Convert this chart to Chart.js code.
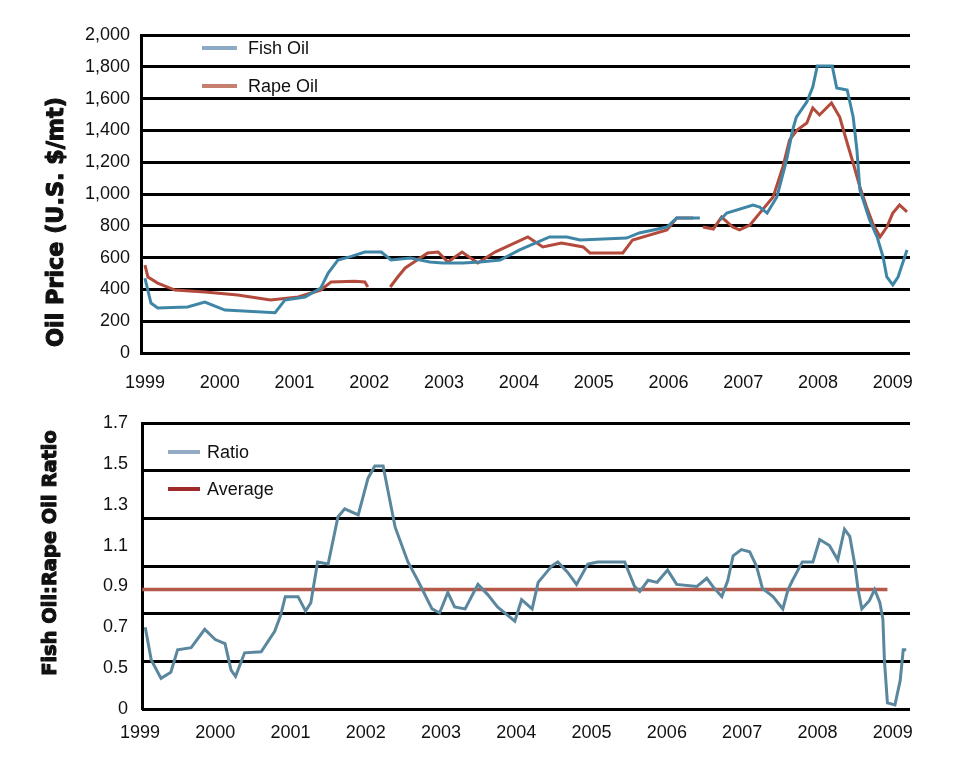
<!DOCTYPE html>
<html><head><meta charset="utf-8">
<script src="https://cdn.jsdelivr.net/npm/chart.js@4"></script>
<style>
html,body{margin:0;padding:0;background:#fff;}
#wrap{position:relative;width:960px;height:774px;overflow:hidden;}
canvas{position:absolute;left:0;}
</style></head><body>
<div id="wrap">
<canvas id="topChart" width="960" height="390" style="top:0;width:960px;height:390px"></canvas>
<canvas id="botChart" width="960" height="384" style="top:390px;width:960px;height:384px"></canvas>
</div>
<script>
// ---- data ----
const yearTicks = [1999,2000,2001,2002,2003,2004,2005,2006,2007,2008,2009];
const priceTicks = [0,200,400,600,800,1000,1200,1400,1600,1800,2000];
const ratioTicks = [0.3,0.5,0.7,0.9,1.1,1.3,1.5,1.7];
const ratioTickLabels = ['0','0.5','0.7','0.9','1.1','1.3','1.5','1.7'];

const fishYears = [1999.00,1999.08,1999.17,1999.57,1999.80,2000.07,2000.74,2000.87,2001.14,2001.35,2001.45,2001.58,2001.75,2001.94,2002.16,2002.29,2002.55,2002.81,2002.98,2003.25,2003.48,2003.75,2004.01,2004.41,2004.64,2004.82,2005.44,2005.61,2005.98,2006.11,2006.42,2006.55,2006.69,2006.78,2007.13,2007.22,2007.32,2007.45,2007.58,2007.66,2007.71,2007.85,2007.93,2007.99,2008.19,2008.25,2008.39,2008.47,2008.52,2008.56,2008.69,2008.79,2008.87,2008.92,2009.00,2009.07,2009.19];
const fishPrices = [470,314,283,290,320,270,253,333,352,408,503,585,606,635,635,585,597,572,566,566,572,585,648,730,730,711,723,755,792,849,849,null,836,880,931,918,880,981,1214,1402,1484,1579,1673,1805,1805,1667,1654,1484,1277,1025,836,730,604,478,428,478,648];

const rapeYears = [1999.00,1999.04,1999.17,1999.40,1999.80,2000.24,2000.68,2001.05,2001.35,2001.49,2001.80,2001.94,2001.98,2002.10,2002.28,2002.38,2002.48,2002.78,2002.92,2003.05,2003.24,2003.45,2003.68,2004.12,2004.32,2004.57,2004.86,2004.95,2005.39,2005.52,2005.98,2006.11,2006.33,2006.40,2006.46,2006.60,2006.71,2006.86,2006.95,2007.09,2007.22,2007.40,2007.53,2007.62,2007.72,2007.85,2007.93,2008.02,2008.18,2008.29,2008.39,2008.47,2008.56,2008.65,2008.73,2008.83,2008.92,2009.00,2009.09,2009.19];
const rapePrices = [553,478,440,396,384,365,333,352,396,447,452,447,415,null,415,478,535,629,635,572,635,566,635,730,667,692,667,629,629,711,774,849,849,null,792,780,855,792,774,805,880,981,1170,1340,1402,1446,1541,1497,1572,1484,1321,1195,1044,918,817,730,792,880,931,887];

const ratioYears = [1999.07,1999.15,1999.28,1999.41,1999.50,1999.68,1999.86,2000.00,2000.13,2000.21,2000.27,2000.39,2000.61,2000.79,2000.87,2000.93,2001.10,2001.20,2001.27,2001.36,2001.50,2001.63,2001.72,2001.90,2002.03,2002.12,2002.23,2002.39,2002.56,2002.69,2002.88,2002.98,2003.09,2003.18,2003.32,2003.49,2003.62,2003.75,2003.98,2004.07,2004.21,2004.29,2004.47,2004.55,2004.68,2004.80,2004.95,2005.08,2005.44,2005.57,2005.64,2005.75,2005.87,2006.01,2006.13,2006.40,2006.53,2006.61,2006.73,2006.81,2006.88,2006.99,2007.10,2007.19,2007.27,2007.41,2007.54,2007.61,2007.67,2007.80,2007.94,2008.03,2008.16,2008.27,2008.36,2008.43,2008.50,2008.54,2008.59,2008.69,2008.76,2008.83,2008.87,2008.89,2008.93,2009.03,2009.10,2009.14,2009.18];
const ratioValues = [0.70,0.54,0.45,0.48,0.59,0.60,0.69,0.64,0.62,0.49,0.46,0.575,0.58,0.68,0.76,0.85,0.85,0.78,0.82,1.02,1.01,1.24,1.28,1.25,1.43,1.49,1.49,1.19,1.02,0.93,0.79,0.77,0.87,0.80,0.79,0.91,0.86,0.80,0.73,0.835,0.79,0.92,1.00,1.02,0.97,0.91,1.01,1.02,1.02,0.90,0.875,0.93,0.92,0.98,0.91,0.90,0.94,0.90,0.85,0.93,1.05,1.08,1.07,1.00,0.89,0.85,0.79,0.885,0.93,1.02,1.02,1.13,1.10,1.03,1.18,1.145,1.00,0.885,0.79,0.83,0.885,0.82,0.74,0.54,0.33,0.32,0.44,0.59,0.59];

const averageYears = [1999.03, 2008.93];
const averageRatio = 0.885;

// ---- helpers ----
const tickFont = {family:'"Liberation Sans", Arial, sans-serif', size:18};
const toPts = (xs, ys) => xs.map((x,i)=>({x:x, y:ys[i]}));
const comma = v => String(v).replace(/\B(?=(\d{3})+(?!\d))/g, ',');

function overlayPlugin(o){
  return {
    id:'overlay'+o.id,
    afterDraw(chart){
      const ctx = chart.ctx;
      ctx.save();
      ctx.translate(o.titleX, o.titleY);
      ctx.rotate(-Math.PI/2);
      ctx.font = 'bold 20px "DejaVu Sans", sans-serif';
      const w = ctx.measureText(o.title).width;
      const size = 20 * o.titleLen / w;
      ctx.font = 'bold ' + size.toFixed(2) + 'px "DejaVu Sans", sans-serif';
      ctx.fillStyle = '#111';
      ctx.strokeStyle = '#111';
      ctx.lineWidth = 1.1;
      ctx.lineJoin = 'round';
      ctx.textAlign = 'center';
      ctx.textBaseline = 'middle';
      ctx.fillText(o.title, 0, 0);
      ctx.strokeText(o.title, 0, 0);
      ctx.restore();
      ctx.save();
      o.legend.forEach(it=>{
        ctx.strokeStyle = it.color;
        ctx.lineWidth = 4;
        ctx.beginPath();
        ctx.moveTo(it.x0, it.y); ctx.lineTo(it.x1, it.y);
        ctx.stroke();
        ctx.fillStyle = '#111';
        ctx.font = '18px "Liberation Sans", Arial, sans-serif';
        ctx.textAlign = 'left';
        ctx.textBaseline = 'middle';
        ctx.fillText(it.label, it.tx, it.y+1);
      });
      ctx.restore();
    }
  };
}

// ---- top chart ----
new Chart(document.getElementById('topChart'), {
  type:'line',
  data:{datasets:[
    {label:'Fish Oil', data:toPts(fishYears, fishPrices), borderColor:'#3f86a6', borderWidth:3, pointRadius:0, tension:0, spanGaps:false},
    {label:'Rape Oil', data:toPts(rapeYears, rapePrices), borderColor:'#b34a3c', borderWidth:3, pointRadius:0, tension:0, spanGaps:false}
  ]},
  options:{
    responsive:false, animation:false, events:[],
    layout:{padding:{top:35,right:50,left:0,bottom:0}},
    plugins:{legend:{display:false}, tooltip:{enabled:false}},
    scales:{
      x:{type:'linear', min:1998.947, max:2009.23,
        afterBuildTicks:s=>{s.ticks = yearTicks.map(v=>({value:v}));},
        afterFit:s=>{s.height = 37;},
        ticks:{callback:v=>String(v), font:tickFont, color:'#111', padding:19, autoSkip:false, maxRotation:0},
        grid:{display:false, drawTicks:false}, border:{display:false}},
      y:{min:0, max:2000,
        afterBuildTicks:s=>{s.ticks = priceTicks.map(v=>({value:v}));},
        afterFit:s=>{s.width = 141;},
        ticks:{callback:v=>comma(v), font:tickFont, color:'#111', padding:11},
        grid:{color:'#000', lineWidth:3, drawTicks:false},
        border:{display:true, color:'#000', width:3}}
    }
  },
  plugins:[overlayPlugin({id:'top', title:'Oil Price (U.S. $/mt)', titleX:57, titleY:222, titleLen:250,
    legend:[{label:'Fish Oil', color:'#8ea9c6', x0:202, x1:237, y:48, tx:248},
            {label:'Rape Oil', color:'#c47f6e', x0:202, x1:237, y:86, tx:248}]})]
});

// ---- bottom chart ----
new Chart(document.getElementById('botChart'), {
  type:'line',
  data:{datasets:[
    {label:'Ratio', data:toPts(ratioYears, ratioValues), borderColor:'#5b879e', borderWidth:3, pointRadius:0, tension:0, yAxisID:'y'},
    {label:'Average', data:averageYears.map(x=>({x:x, y:averageRatio})), borderColor:'#b4584a', borderWidth:3.5, pointRadius:0, tension:0, yAxisID:'y'}
  ]},
  options:{
    responsive:false, animation:false, events:[],
    layout:{padding:{top:33,right:50,left:0,bottom:0}},
    plugins:{legend:{display:false}, tooltip:{enabled:false}},
    scales:{
      x:{type:'linear', min:1999.027, max:2009.23,
        afterBuildTicks:s=>{s.ticks = yearTicks.map(v=>({value:v}));},
        afterFit:s=>{s.height = 65;},
        ticks:{callback:v=>String(v), font:tickFont, color:'#111', padding:13, autoSkip:false, maxRotation:0},
        grid:{display:false, drawTicks:false}, border:{display:false}},
      y:{min:0.3, max:1.7,
        afterBuildTicks:s=>{s.ticks = ratioTicks.map(v=>({value:v}));},
        afterFit:s=>{s.width = 142;},
        ticks:{callback:(v,i)=>ratioTickLabels[i], font:tickFont, color:'#111', padding:14},
        grid:{display:false, drawTicks:false},
        border:{display:true, color:'#000', width:3}},
      y2:{position:'right', min:0, max:6,
        afterBuildTicks:s=>{s.ticks = [0,1,2,3,4,5,6].map(v=>({value:v}));},
        afterFit:s=>{s.width = 0;},
        ticks:{display:false},
        grid:{color:'#000', lineWidth:3, drawTicks:false},
        border:{display:false}}
    }
  },
  plugins:[overlayPlugin({id:'bot', title:'Fish Oil:Rape Oil Ratio', titleX:51, titleY:163, titleLen:246,
    legend:[{label:'Ratio', color:'#93aac4', x0:168, x1:200, y:62, tx:207},
            {label:'Average', color:'#9e2a2a', x0:168, x1:200, y:99, tx:207}]})]
});
</script>
</body></html>
